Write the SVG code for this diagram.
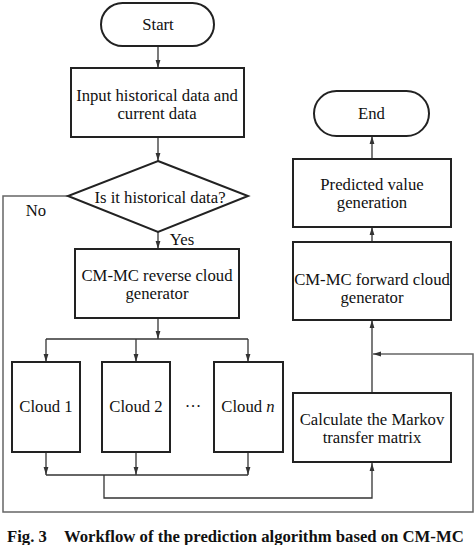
<svg xmlns="http://www.w3.org/2000/svg" width="474" height="545" viewBox="0 0 474 545">
<style>
.box{fill:#fff;stroke:#222;stroke-width:2}
.ln{fill:none;stroke:#333;stroke-width:1.3}
.fb{fill:none;stroke:#666;stroke-width:1.5}
text{font-family:"Liberation Serif","Times New Roman",serif;font-size:16.7px;fill:#111;text-anchor:middle}
.cap{font-weight:bold;font-size:16.7px;text-anchor:start}
</style>
<defs>
<marker id="ah" viewBox="0 0 8 6" refX="8" refY="3" markerWidth="8" markerHeight="6" markerUnits="userSpaceOnUse" orient="auto">
<path d="M0,0.6 L8,3 L0,5.4 Z" fill="#333"/>
</marker>
</defs>
<g id="connectors">
<path class="ln" d="M158,46 V68" marker-end="url(#ah)"/>
<path class="ln" d="M158,137 V161" marker-end="url(#ah)"/>
<path class="ln" d="M158,232 V249" marker-end="url(#ah)"/>
<path class="ln" d="M158,318 V339" marker-end="url(#ah)"/>
<path class="ln" d="M46,339 H248"/>
<path class="ln" d="M46,339 V362" marker-end="url(#ah)"/>
<path class="ln" d="M136,339 V362" marker-end="url(#ah)"/>
<path class="ln" d="M248,339 V362" marker-end="url(#ah)"/>
<path class="ln" d="M46,452 V475" marker-end="url(#ah)"/>
<path class="ln" d="M136,452 V475" marker-end="url(#ah)"/>
<path class="ln" d="M248,452 V475" marker-end="url(#ah)"/>
<path class="ln" d="M46,475 H248"/>
<path class="ln" d="M104,475 V498 H372 V463" marker-end="url(#ah)"/>
<path class="ln" d="M372,393 V320" marker-end="url(#ah)"/>
<path class="ln" d="M372,242 V227" marker-end="url(#ah)"/>
<path class="ln" d="M372,159 V136" marker-end="url(#ah)"/>
<path class="fb" d="M68,196 H3 V512 H473 V354 H373" marker-end="url(#ah)"/>
<text x="36" y="216">No</text>
<text x="182" y="245">Yes</text>
</g>
<g id="start">
<rect class="box" x="101" y="3" width="113" height="43" rx="21.5"/>
<text x="158" y="30">Start</text>
</g>
<g id="input">
<rect class="box" x="71" y="68" width="173" height="69"/>
<text x="157" y="100.5">Input historical data and</text>
<text x="157" y="119">current data</text>
</g>
<g id="decision">
<polygon class="box" points="158,161 248,196 158,232 68,196"/>
<text x="160" y="203">Is it historical data?</text>
</g>
<g id="reverse">
<rect class="box" x="75" y="249" width="164" height="69"/>
<text x="157" y="280.5">CM-MC reverse cloud</text>
<text x="157" y="299">generator</text>
</g>
<g id="cloud1">
<rect class="box" x="12" y="362" width="68" height="90"/>
<text x="46" y="412">Cloud 1</text>
</g>
<g id="cloud2">
<rect class="box" x="102" y="362" width="68" height="90"/>
<text x="136" y="412">Cloud 2</text>
</g>
<text x="193" y="412">···</text>
<g id="cloudn">
<rect class="box" x="214" y="362" width="69" height="90"/>
<text x="248" y="412">Cloud <tspan font-style="italic">n</tspan></text>
</g>
<g id="markov">
<rect class="box" x="293" y="393" width="158" height="69"/>
<text x="372" y="424.5">Calculate the Markov</text>
<text x="372" y="443">transfer matrix</text>
</g>
<g id="forward">
<rect class="box" x="293" y="242" width="158" height="78"/>
<text x="372" y="284.5">CM-MC forward cloud</text>
<text x="372" y="303">generator</text>
</g>
<g id="predicted">
<rect class="box" x="293" y="159" width="158" height="68"/>
<text x="372" y="189.5">Predicted value</text>
<text x="372" y="208">generation</text>
</g>
<g id="end">
<rect class="box" x="314" y="91" width="115" height="45" rx="22.5"/>
<text x="371.5" y="119">End</text>
</g>
<text class="cap" x="7" y="542">Fig. 3</text>
<text class="cap" x="64" y="542">Workflow of the prediction algorithm based on CM-MC</text>
</svg>
